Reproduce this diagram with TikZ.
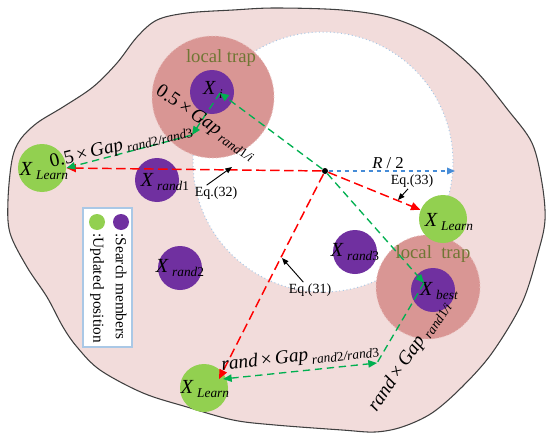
\documentclass[tikz,border=0pt]{standalone}
\usepackage{fontspec}
\setmainfont{Liberation Serif}
\usetikzlibrary{arrows.meta}

\definecolor{blobfill}{RGB}{242,220,219}
\definecolor{trapfill}{RGB}{217,150,148}
\definecolor{trapedge}{RGB}{232,190,188}
\definecolor{purpleM}{RGB}{112,48,160}
\definecolor{greenU}{RGB}{146,208,80}
\definecolor{redL}{RGB}{255,0,0}
\definecolor{greenL}{RGB}{0,176,80}
\definecolor{blueR}{RGB}{70,140,215}
\definecolor{ringedge}{RGB}{170,200,230}
\definecolor{trapText}{RGB}{112,118,52}

\newcommand{\Xsub}[1]{\textit{X}\,\raisebox{-3pt}{\fontsize{10}{10}\selectfont\textit{#1}}}
\newcommand{\Gp}[1]{\textit{Gap}\,\raisebox{-3pt}{\fontsize{10}{10}\selectfont\textit{#1}}}

\tikzset{every picture/.style={line width=0.75pt}}

\begin{document}
\begin{tikzpicture}[x=0.75pt,y=0.75pt,yscale=-1,xscale=1,
  member/.style={circle,fill=purpleM,inner sep=0pt,minimum size=33pt},
  updated/.style={circle,fill=greenU,inner sep=0pt,minimum size=36pt},
  xname/.style={inner sep=0pt,font=\fontsize{15}{15}\selectfont},
  trap/.style={fill=trapfill,draw=trapedge,dotted},
  reddash/.style={draw=redL,line width=1.1pt,dash pattern=on 7pt off 3.5pt,-{Triangle[length=7pt,width=6pt]}},
  greendash/.style={draw=greenL,line width=1pt,dash pattern=on 5.5pt off 3.5pt},
  tip/.style={-{Triangle[length=6.5pt,width=5.5pt]}},
  pointer/.style={draw=black,line width=0.7pt,-{Triangle[length=5pt,width=4pt]}},
  eqtext/.style={inner sep=0.75pt,font=\fontsize{10.5}{10.5}\selectfont},
  gaptext/.style={inner sep=0.75pt,font=\fontsize{14.5}{14.5}\selectfont},
  traptext/.style={inner sep=0.75pt,text=trapText,font=\fontsize{14}{14}\selectfont}]
\useasboundingbox (0,0) rectangle (550,439);

%Shape: search space
\draw [fill=blobfill,draw=black!75,line width=0.8pt] plot [smooth cycle,tension=0.55] coordinates {
  (8,200) (12,160) (20,140) (37,123) (63,107) (93,87) (117,63) (137,37) (157,20) (187,13) (233,10) (275,8)
  (342,10) (392,18) (435,37) (475,70) (508,110) (532,143) (542,183) (545,220)
  (538,253) (522,303) (492,353) (462,387) (432,413) (402,427) (375,432) (342,430) (275,425)
  (233,420) (187,407) (143,393) (100,370) (77,347) (63,327) (47,297) (27,267) (10,233)};
%Shape: inner circle
\draw [fill=white,draw=ringedge,dotted] (323,162) circle [radius=130];
%Shape: local traps
\draw [trap] (213,97) circle [radius=61];
\draw [trap] (428,287) circle [radius=52];

\node [traptext] (trapA) at (221,58) {local trap};
\node [traptext] (trapB) at (433,254) {local\ \ trap};

%Members
\node [member] (xi) at (212,92) {};
\node [member] (xr1) at (157,180) {};
\node [member] (xr2) at (180,268) {};
\node [member] (xr3) at (355,252) {};
\node [member] (xbest) at (433,290) {};
\node [updated] (learnL) at (42,168) {};
\node [updated] (learnR) at (443,219) {};
\node [updated] (learnB) at (204,388) {};

\node [xname] at (213,90) {\Xsub{i}};
\node [xname] at (165,182) {\Xsub{rand\textup{1}}};
\node [xname] at (180,268) {\Xsub{rand\textup{2}}};
\node [xname] at (355,252) {\Xsub{rand\textup{3}}};
\node [xname] at (439,291) {\Xsub{best}};
\node [xname] at (44,171) {\Xsub{Learn}};
\node [xname] at (449,222) {\Xsub{Learn}};
\node [xname] at (205,389) {\Xsub{Learn}};

%Centre point
\node [circle,fill=black,inner sep=0pt,minimum size=4.5pt] (c) at (325,171) {};
\coordinate (pi) at (220,93);
\coordinate (pb) at (424,283);
\coordinate (j1) at (192,135);
\coordinate (j2) at (377,363);
\coordinate (hitB) at (219,379);
\coordinate (rEnd) at (455,171);

%Red moves
\draw [reddash] (c) -- (learnL.east);
\draw [reddash] (c) -- (learnR);
\draw [reddash] (c) -- (hitB);

%Green moves
\draw [greendash,tip] (c) -- (pi);
\draw [greendash,tip] (c) -- (pb);
\draw [greendash,tip] (pi) -- (j1);
\draw [greendash,tip] (j1) -- (learnL.east);
\draw [greendash] (pb) -- (j2);
\draw [greendash,{Triangle[length=6.5pt,width=5.5pt]}-{Triangle[length=6.5pt,width=5.5pt]}] ([xshift=3pt]hitB) -- (j2);

%R/2
\draw [draw=blueR,line width=0.9pt,dash pattern=on 3.5pt off 2.5pt,-{Triangle[length=6pt,width=5pt]}] (c) -- (rEnd);
\node [inner sep=0.75pt,font=\fontsize{12.5}{12.5}\selectfont] (rlab) at (388,163) {\textit{R} / 2};

%Equation pointers
\node [eqtext] (eq31) at (310,290) {Eq.(31)};
\node [eqtext] (eq32) at (216,193) {Eq.(32)};
\node [eqtext] (eq33) at (412,181) {Eq.(33)};
\coordinate (h31) at (282,258);
\coordinate (h32) at (232,167);
\coordinate (h33) at (398,200);
\draw [pointer] ([xshift=-5pt]eq31.north) -- (h31);
\draw [pointer] ([xshift=-7pt]eq32.north) -- (h32);
\draw [pointer] ([xshift=-3pt]eq33.south) -- (h33);

%Step sizes
\node [gaptext,rotate=-34] at (206,123) {0.5\,×\,\Gp{rand\textup{1}/i}};
\node [gaptext,rotate=14] at (121,146) {0.5\,×\,\Gp{rand\textup{2}/rand\textup{3}}};
\node [gaptext,rotate=6.5] at (300,357) {\textit{rand}\,×\,\Gp{rand\textup{2}/rand\textup{3}}};
\node [gaptext,rotate=56] at (409,356) {\textit{rand}\,×\,\Gp{rand\textup{1}/i}};

%Legend
\draw [fill=white,draw=ringedge,line width=0.8pt] (83,208) rectangle (132,347);
\node [circle,fill=greenU,inner sep=0pt,minimum size=12pt] (legU) at (97,222) {};
\node [circle,fill=purpleM,inner sep=0pt,minimum size=12pt] (legS) at (121,222) {};
\node [rotate=-90,anchor=west,inner sep=0pt,font=\fontsize{11.5}{11.5}\selectfont] at (97,233) {:Updated position};
\node [rotate=-90,anchor=west,inner sep=0pt,font=\fontsize{11.5}{11.5}\selectfont] at (121,233) {:Search members};

\end{tikzpicture}
\end{document}
